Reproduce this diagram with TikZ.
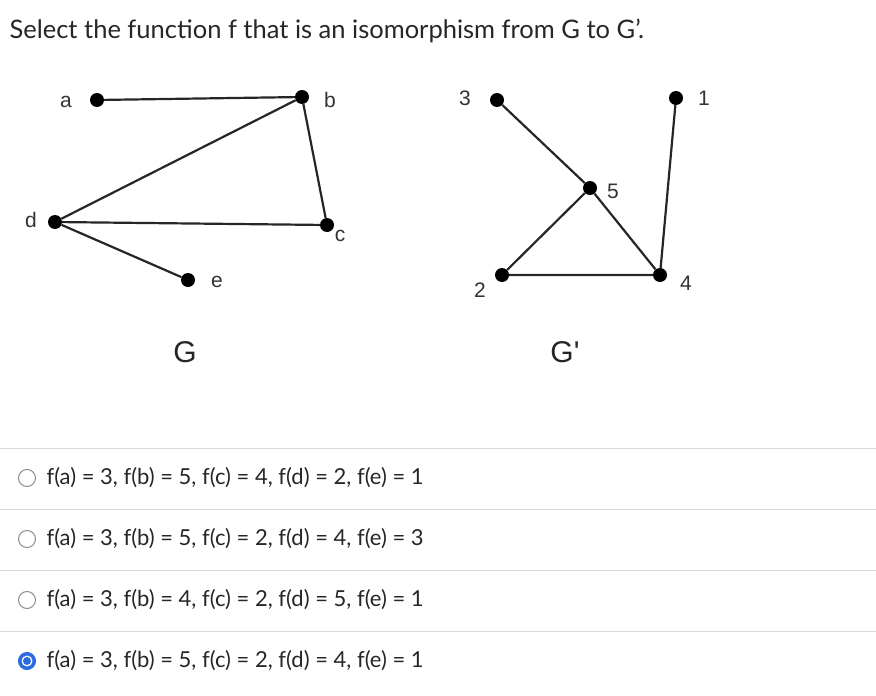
\documentclass[tikz,border=0pt]{standalone}
\usepackage{fontspec}
\setmainfont{Lato}
\newfontfamily\arialf{Liberation Sans}
\definecolor{rb}{HTML}{2B6BE0}
\begin{document}
\begin{tikzpicture}[x=1pt,y=-1pt,
  vtx/.style={circle,fill=black,inner sep=0pt,minimum size=14pt},
  lbl/.style={font=\arialf\fontsize{21}{21}\selectfont,text=black!80},
  edge/.style={line width=2.2pt,black!85},
  sep/.style={draw=black!15,line width=0.8pt},
  opt/.style={anchor=west,font=\fontsize{22}{22}\selectfont,text=black!85},
  radio/.style={circle,draw=black!45,line width=1pt,inner sep=0pt,minimum size=17pt}]
\useasboundingbox (0,0) rectangle (876,696);
\node[anchor=west,font=\fontsize{25.5}{25.5}\selectfont,text=black!85] (title) at (6,31) {Select the function f that is an isomorphism from G to G’.};
% G
\node[vtx] (a) at (97,100) {};
\node[vtx] (b) at (302,97) {};
\node[vtx] (c) at (327,225) {};
\node[vtx] (d) at (55,222) {};
\node[vtx] (e) at (188,280) {};
\draw[edge] (a)--(b) (b)--(d) (b)--(c) (d)--(c) (d)--(e);
\node[lbl] (la) at (66,102) {a};
\node[lbl] (lb) at (330,100) {b};
\node[lbl] (lc) at (340,236) {c};
\node[lbl] (ld) at (31,220) {d};
\node[lbl] (le) at (217,282) {e};
\node[font=\arialf\fontsize{30}{30}\selectfont,text=black!85] (G) at (185,352) {G};
% G'
\node[vtx] (n3) at (497,100) {};
\node[vtx] (n1) at (676,98) {};
\node[vtx] (n5) at (590,188) {};
\node[vtx] (n2) at (502,275) {};
\node[vtx] (n4) at (660,275) {};
\draw[edge] (n3)--(n5) (n5)--(n2) (n5)--(n4) (n2)--(n4) (n1)--(n4);
\node[lbl] (l3) at (465,98) {3};
\node[lbl] (l1) at (704,98) {1};
\node[lbl] (l5) at (613,191) {5};
\node[lbl] (l2) at (480,290) {2};
\node[lbl] (l4) at (686,283) {4};
\node[font=\arialf\fontsize{30}{30}\selectfont,text=black!85] (Gp) at (565,352) {G'};
% options
\foreach \y in {448,509,570,631} \draw[sep] (0,\y)--(876,\y);
\node[radio] (r1) at (27,478) {};
\node[opt] (o1) at (43,478) {f(a) = 3, f(b) = 5, f(c) = 4, f(d) = 2, f(e) = 1};
\node[radio] (r2) at (27,539) {};
\node[opt] (o2) at (43,539) {f(a) = 3, f(b) = 5, f(c) = 2, f(d) = 4, f(e) = 3};
\node[radio] (r3) at (27,600) {};
\node[opt] (o3) at (43,600) {f(a) = 3, f(b) = 4, f(c) = 2, f(d) = 5, f(e) = 1};
\node[radio,draw=rb,fill=rb] (r4) at (27,661) {};
\fill[white] (r4.center) circle (5.5);
\fill[rb] (r4.center) circle (4);
\node[opt] (o4) at (43,661) {f(a) = 3, f(b) = 5, f(c) = 2, f(d) = 4, f(e) = 1};
\end{tikzpicture}
\end{document}
